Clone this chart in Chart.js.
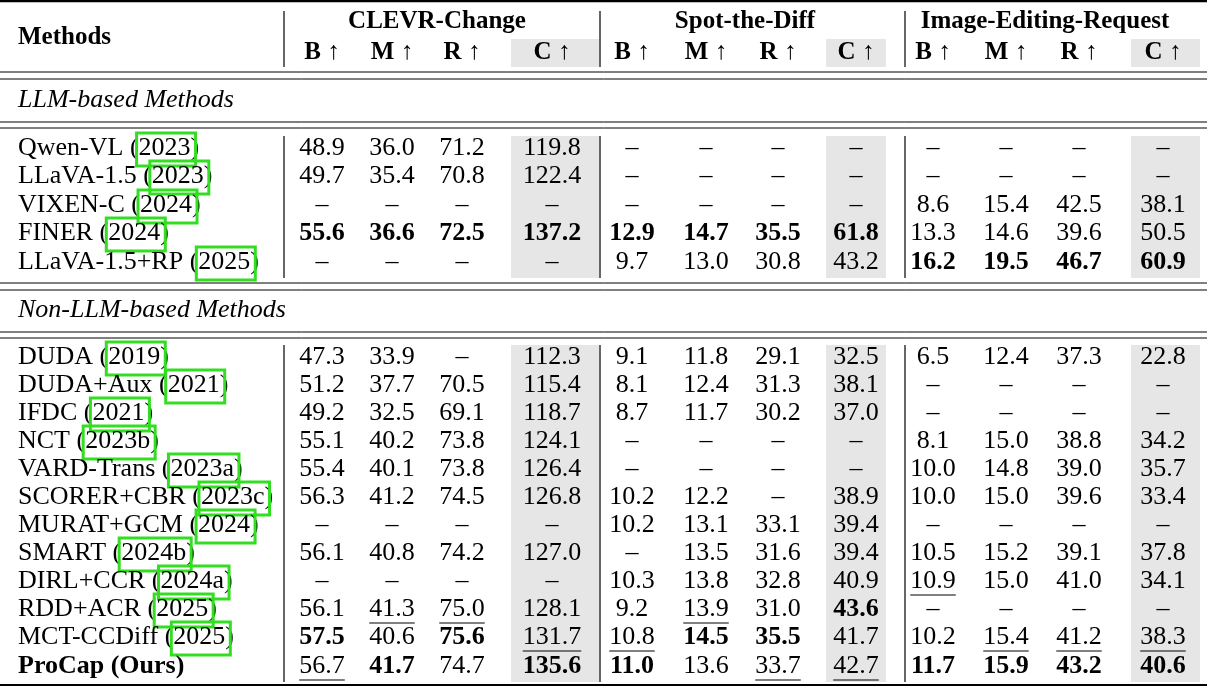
<!DOCTYPE html>
<html><head><meta charset="utf-8">
<script src="https://cdn.jsdelivr.net/npm/chart.js@4.4.0/dist/chart.umd.min.js"></script>
<style>html,body{margin:0;background:#fff}#wrap{width:1207px;height:697px}</style>
</head><body><div id="wrap"><canvas id="tbl"></canvas></div>
<script>
// table data: '*' = bold, '_' = underline, '-' = missing
var groups = ['CLEVR-Change', 'Spot-the-Diff', 'Image-Editing-Request']
var metrics = ['B', 'M', 'R', 'C']

var llmNames = ['Qwen-VL', 'LLaVA-1.5', 'VIXEN-C', 'FINER', 'LLaVA-1.5+RP']
var llmYears = ['2023', '2023', '2024', '2024', '2025']
var llmValues = [
    ['48.9','36.0','71.2','119.8', '-','-','-','-', '-','-','-','-'],
    ['49.7','35.4','70.8','122.4', '-','-','-','-', '-','-','-','-'],
    ['-','-','-','-', '-','-','-','-', '8.6','15.4','42.5','38.1'],
    ['*55.6','*36.6','*72.5','*137.2', '*12.9','*14.7','*35.5','*61.8', '13.3','14.6','39.6','50.5'],
    ['-','-','-','-', '9.7','13.0','30.8','43.2', '*16.2','*19.5','*46.7','*60.9']
]

var otherNames = ['DUDA', 'DUDA+Aux', 'IFDC', 'NCT', 'VARD-Trans', 'SCORER+CBR', 'MURAT+GCM', 'SMART', 'DIRL+CCR', 'RDD+ACR', 'MCT-CCDiff', 'ProCap (Ours)']
var otherYears = ['2019', '2021', '2021', '2023b', '2023a', '2023c', '2024', '2024b', '2024a', '2025', '2025', '']
var otherValues = [
    ['47.3','33.9','-','112.3', '9.1','11.8','29.1','32.5', '6.5','12.4','37.3','22.8'],
    ['51.2','37.7','70.5','115.4', '8.1','12.4','31.3','38.1', '-','-','-','-'],
    ['49.2','32.5','69.1','118.7', '8.7','11.7','30.2','37.0', '-','-','-','-'],
    ['55.1','40.2','73.8','124.1', '-','-','-','-', '8.1','15.0','38.8','34.2'],
    ['55.4','40.1','73.8','126.4', '-','-','-','-', '10.0','14.8','39.0','35.7'],
    ['56.3','41.2','74.5','126.8', '10.2','12.2','-','38.9', '10.0','15.0','39.6','33.4'],
    ['-','-','-','-', '10.2','13.1','33.1','39.4', '-','-','-','-'],
    ['56.1','40.8','74.2','127.0', '-','13.5','31.6','39.4', '10.5','15.2','39.1','37.8'],
    ['-','-','-','-', '10.3','13.8','32.8','40.9', '_10.9','15.0','41.0','34.1'],
    ['56.1','_41.3','_75.0','128.1', '9.2','_13.9','31.0','*43.6', '-','-','-','-'],
    ['*57.5','40.6','*75.6','_131.7', '_10.8','*14.5','*35.5','41.7', '10.2','_15.4','_41.2','_38.3'],
    ['_56.7','*41.7','74.7','*135.6', '*11.0','13.6','_33.7','_42.7', '*11.7','*15.9','*43.2','*40.6']
]

// layout (pixel-like units on the linear scales)
var colX = [322, 392, 462, 552, 632, 706, 778, 856, 933, 1006, 1079, 1163]
var groupX = [437, 745, 1045]
var sepX = [284, 600, 905]
var shade = [[511, 599], [826, 886], [1131, 1200]]
var llmY = [148, 176, 205, 233, 262]
var otherY = [357, 385, 413, 441, 469, 497, 525, 553, 581, 609, 637, 666]
var SERIF = '"Liberation Serif", "DejaVu Serif", serif'
var FS = 26

var points = []
function addRows(names, vals, ys) {
    for (var r = 0; r < names.length; r++)
        for (var c = 0; c < 12; c++)
            points.push({x: colX[c], y: ys[r], t: vals[r][c]})
}
addRows(llmNames, llmValues, llmY)
addRows(otherNames, otherValues, otherY)

var tablePlugin = {
    id: 'tablePlugin',
    beforeDatasetsDraw: function(chart) {
        var ctx = chart.ctx, sx = chart.scales.x, sy = chart.scales.y
        var X = function(v) { return sx.getPixelForValue(v) }
        var Y = function(v) { return sy.getPixelForValue(v) }
        ctx.save()
        ctx.fillStyle = '#e6e6e6'
        shade.forEach(function(s) {
            ctx.fillRect(X(s[0]), Y(39), X(s[1]) - X(s[0]), Y(67) - Y(39))
            ctx.fillRect(X(s[0]), Y(136), X(s[1]) - X(s[0]), Y(278) - Y(136))
            ctx.fillRect(X(s[0]), Y(345), X(s[1]) - X(s[0]), Y(682) - Y(345))
        })
        ctx.strokeStyle = '#000'
        function hline(y, w) { ctx.lineWidth = w; ctx.beginPath(); ctx.moveTo(X(0), Y(y)); ctx.lineTo(X(1207), Y(y)); ctx.stroke() }
        hline(1, 2.5); hline(72, 1); hline(79, 1); hline(122, 1); hline(128, 1)
        hline(283, 1); hline(290, 1); hline(332, 1); hline(338, 1); hline(685, 2)
        ctx.lineWidth = 1.2
        sepX.forEach(function(x) {
            [[11, 67], [136, 278], [345, 682]].forEach(function(seg) {
                ctx.beginPath(); ctx.moveTo(X(x), Y(seg[0])); ctx.lineTo(X(x), Y(seg[1])); ctx.stroke()
            })
        })
        ctx.fillStyle = '#000'
        ctx.textBaseline = 'middle'
        ctx.font = 'bold 25px ' + SERIF
        ctx.textAlign = 'left'
        ctx.fillText('Methods', X(18), Y(38))
        ctx.textAlign = 'center'
        groups.forEach(function(g, i) { ctx.fillText(g, X(groupX[i]), Y(22)) })
        for (var c = 0; c < 12; c++) ctx.fillText(metrics[c % 4] + ' \u2191', X(colX[c]), Y(53))
        ctx.textAlign = 'left'
        ctx.font = 'italic ' + FS + 'px ' + SERIF
        ctx.fillText('LLM-based Methods', X(18), Y(100))
        ctx.fillText('Non-LLM-based Methods', X(18), Y(310))
        function names(ns, yrs, ys) {
            for (var i = 0; i < ns.length; i++) {
                var y = Y(ys[i]), x = X(18)
                if (!yrs[i]) {
                    ctx.font = 'bold ' + FS + 'px ' + SERIF
                    ctx.fillText(ns[i], x, y); continue
                }
                ctx.font = FS + 'px ' + SERIF
                var pre = ns[i] + ' ('
                ctx.fillText(pre, x, y)
                var x2 = x + ctx.measureText(pre).width
                var w = ctx.measureText(yrs[i]).width
                ctx.fillText(yrs[i] + ')', x2, y)
                ctx.strokeStyle = '#33dd22'; ctx.lineWidth = 3
                ctx.strokeRect(x2 - 2, y - 15, w + 7, 33)
            }
        }
        names(llmNames, llmYears, llmY)
        names(otherNames, otherYears, otherY)
        ctx.restore()
    },
    afterDatasetsDraw: function(chart) {
        var ctx = chart.ctx
        var meta = chart.getDatasetMeta(0)
        ctx.save()
        ctx.textAlign = 'center'; ctx.textBaseline = 'middle'; ctx.fillStyle = '#000'
        meta.data.forEach(function(el, i) {
            var t = points[i].t, bold = false, ul = false
            if (t[0] === '*') { bold = true; t = t.slice(1) }
            if (t[0] === '_') { ul = true; t = t.slice(1) }
            if (t === '-') t = '\u2013'
            ctx.font = (bold ? 'bold ' : '') + FS + 'px ' + SERIF
            ctx.fillText(t, el.x, el.y)
            if (ul) {
                var w = ctx.measureText(t).width
                ctx.lineWidth = 1.2; ctx.strokeStyle = '#000'
                ctx.beginPath(); ctx.moveTo(el.x - w / 2, el.y + 14); ctx.lineTo(el.x + w / 2, el.y + 14); ctx.stroke()
            }
        })
        ctx.restore()
    }
}

var ctx = document.getElementById('tbl').getContext('2d')
var tbl = new Chart(ctx, {
    type: 'scatter',
    data: { datasets: [{ data: points, pointRadius: 0, pointHoverRadius: 0 }] },
    options: {
        responsive: true,
        maintainAspectRatio: false,
        animation: false,
        layout: { padding: 0 },
        plugins: { legend: { display: false }, tooltip: { enabled: false } },
        scales: {
            x: { type: 'linear', min: 0, max: 1207, display: false },
            y: { type: 'linear', min: 0, max: 697, reverse: true, display: false }
        }
    },
    plugins: [tablePlugin]
});
</script>
</body></html>
